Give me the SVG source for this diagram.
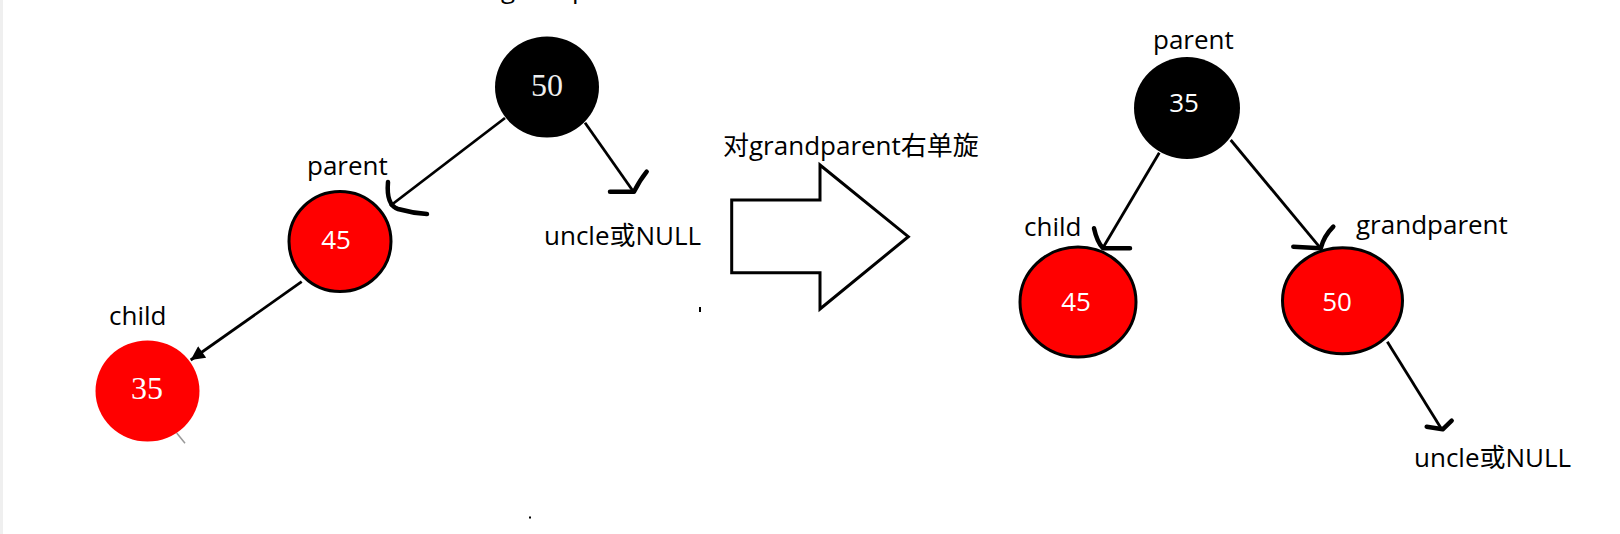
<svg xmlns="http://www.w3.org/2000/svg" width="1620" height="534" viewBox="0 0 1620 534">
<defs>
<marker id="tri" viewBox="0 0 10 10" refX="10" refY="5" markerWidth="6.5" markerHeight="5" markerUnits="strokeWidth" orient="auto">
<path d="M0,0 L10,5 L0,10 z" fill="#000"/>
</marker>
<style>
.lbl{font-family:"Open Sans","Noto Sans CJK SC",sans-serif;font-size:26px;fill:#000}
.num{font-family:"Open Sans",sans-serif;font-size:26px;fill:#fff;text-anchor:middle}
.snum{font-family:"Liberation Serif",serif;font-size:32px;fill:#fff;text-anchor:middle}
.edge{stroke:#000;stroke-width:2.8;fill:none}
.hand{stroke:#000;stroke-width:4.5;fill:none;stroke-linecap:round;stroke-linejoin:round}
.red{fill:#ff0000}
.redS{fill:#ff0000;stroke:#000;stroke-width:3}
.blk{fill:#000}
</style>
</defs>
<rect x="0" y="0" width="1620" height="534" fill="#fff"/>
<rect x="0" y="0" width="3" height="534" fill="#efefef"/>

<g id="connectors">
<line class="edge" x1="505" y1="118" x2="390" y2="206"/>
<path class="hand" d="M388,182 Q386,205 398,209 Q412,213 427,214"/>
<line class="edge" x1="301.7" y1="281.7" x2="190.7" y2="360" marker-end="url(#tri)"/>
<line class="edge" x1="585" y1="122.7" x2="633" y2="191"/>
<path class="hand" d="M610,191.7 L634,191.7 Q640,180 646.7,171.7"/>
<line class="edge" x1="1159.3" y1="152.7" x2="1102.7" y2="248.3"/>
<path class="hand" d="M1094,228.3 Q1097,242 1103,248.3 L1130,248.3"/>
<line class="edge" x1="1230.7" y1="140" x2="1320.7" y2="248.3"/>
<path class="hand" d="M1293.3,246.7 L1320.7,248.3 Q1324,236 1333.3,226.7"/>
<line class="edge" x1="1387.3" y1="341.7" x2="1441.7" y2="429.3"/>
<path class="hand" d="M1426.7,426.7 L1442.7,429.3 L1451.7,420.7"/>
<line x1="176.7" y1="433" x2="185" y2="443.3" stroke="#999" stroke-width="1.5"/>
</g>

<g id="node-50-left">
<ellipse class="blk" cx="547" cy="87" rx="52" ry="50.5"/>
<text class="snum" x="547" y="96" style="fill:#eeeeee">50</text>
<text class="lbl" x="501" y="-2">grandparent</text>
</g>

<g id="node-45-left">
<ellipse class="redS" cx="340" cy="241.5" rx="51" ry="50"/>
<text class="num" x="336" y="249">45</text>
<text class="lbl" x="307" y="175">parent</text>
</g>

<g id="node-35-left">
<ellipse class="red" cx="147.5" cy="391" rx="52" ry="50.5"/>
<text class="snum" x="147" y="399">35</text>
<text class="lbl" x="109" y="325">child</text>
</g>

<g id="uncle-left">
<text class="lbl" x="544" y="245">uncle或NULL</text>
</g>

<g id="rotate-arrow">
<polygon points="731.7,200 820,200 820,165 908.3,236.7 820,309 820,272.7 731.7,272.7" fill="#fff" stroke="#000" stroke-width="3"/>
<text class="lbl" x="723" y="155">对grandparent右单旋</text>
</g>

<g id="node-35-right">
<ellipse class="blk" cx="1187" cy="108" rx="53" ry="51"/>
<text class="num" x="1184" y="111.7">35</text>
<text class="lbl" x="1153" y="49">parent</text>
</g>

<g id="node-45-right">
<ellipse class="redS" cx="1078" cy="302" rx="58" ry="55"/>
<text class="num" x="1076" y="311">45</text>
<text class="lbl" x="1024" y="236">child</text>
</g>

<g id="node-50-right">
<ellipse class="redS" cx="1342.5" cy="300.7" rx="60" ry="53"/>
<text class="num" x="1337" y="311">50</text>
<text class="lbl" x="1356" y="234">grandparent</text>
</g>

<g id="uncle-right">
<text class="lbl" x="1414" y="467">uncle或NULL</text>
</g>

<rect x="699" y="307" width="2" height="5" fill="#000"/>
<rect x="529" y="516.5" width="2" height="2" fill="#000"/>
</svg>
